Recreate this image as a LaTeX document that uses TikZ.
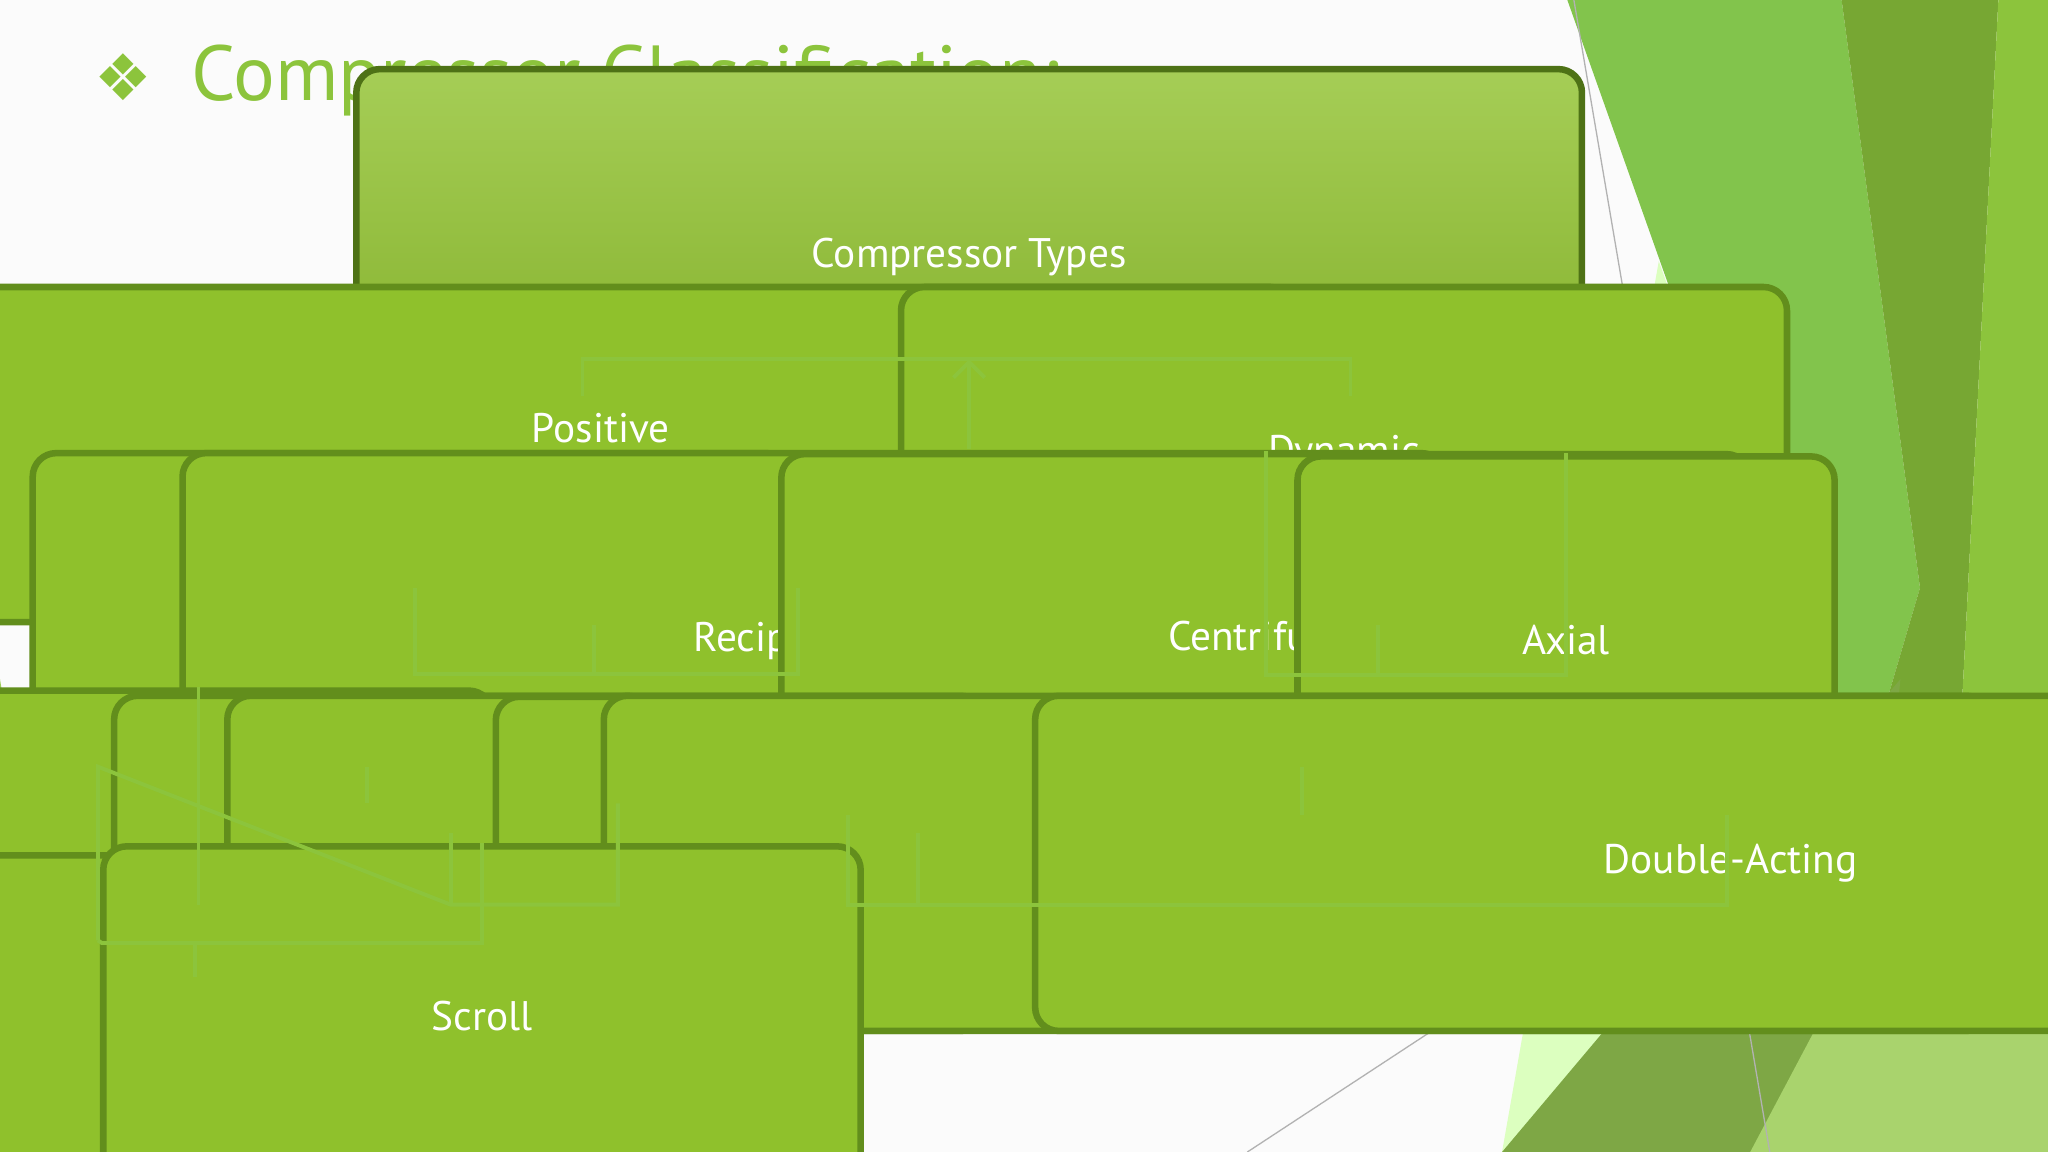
\documentclass[tikz,border=0pt]{standalone}
\usepackage{fontspec}
\setmainfont{PT Sans}
\newfontfamily\symfont{DejaVu Sans}
\usepackage{xcolor}
\usetikzlibrary{shapes, arrows, positioning, arrows.meta, calc}
\definecolor{leaf}{RGB}{143, 193, 44}
\definecolor{leafdark}{RGB}{98, 142, 28}
\definecolor{wire}{RGB}{140, 196, 60}

\begin{document}
\begin{tikzpicture}[x=0.1mm, y=-0.1mm,
    box/.style={draw=leafdark, fill=leaf, line width=0.5mm, rounded corners=1.8mm, text=white, font=\fontsize{9}{10}\selectfont, align=center, inner sep=0pt},
    link/.style={draw=wire, line width=0.3mm}]
    \useasboundingbox (0,0) rectangle (1568,882);
    \fill[white!97!gray] (0,0) rectangle (1568,882);
    % backdrop
    \fill[green!40!lime!25!white] (1270,200) -- (1420,620) -- (1210,882) -- (1150,882) -- cycle;
    \fill[green!45!black!60!lime!70] (1200,0) -- (1410,0) -- (1470,450) -- (1420,620) -- cycle;
    \fill[wire!85!black] (1410,0) -- (1530,0) -- (1500,580) -- (1420,620) -- (1470,450) -- cycle;
    \fill[wire] (1530,0) -- (1568,0) -- (1568,882) -- (1420,882) -- (1500,580) -- cycle;
    \fill[wire!80!black!90] (1150,882) -- (1455,520) -- (1420,882) -- cycle;
    \fill[wire!75!white] (1340,882) -- (1500,580) -- (1568,560) -- (1568,882) -- cycle;
    \fill[wire!85!white] (0,520) -- (58,882) -- (0,882) -- cycle;
    \draw[gray!60, line width=0.1mm] (1205,0) -- (1355,882);
    \draw[gray!60, line width=0.1mm] (1400,590) -- (955,882);
    % title
    \node[anchor=west, text=wire, font=\fontsize{17}{20}\selectfont] (title) at (60,62) {{\symfont\fontsize{14}{14}\selectfont ❖}\hspace{3mm}Compressor Classification:};
    % boxes
    \node[box, minimum width=267, minimum height=82, draw=leafdark!80!black, top color=leaf!80!white, bottom color=leaf!90!black] (types) at (742,197) {Compressor Types};
    \node[box, minimum width=302, minimum height=73] (pos) at (460,348) {Positive\\Displacement};
    \node[box, minimum width=193, minimum height=73] (dyn) at (1029,348) {Dynamic};
    \node[box, minimum width=165, minimum height=82] (rot) at (315,491) {Rotary};
    \node[box, minimum width=275, minimum height=82] (rec) at (623,491) {Reciprocating};
    \node[box, minimum width=211, minimum height=81] (cen) at (969,490) {Centrifugal};
    \node[box, minimum width=117, minimum height=80] (axi) at (1199,490) {Axial};
    \node[box, minimum width=128, minimum height=73] (lobe) at (152,657) {Lobe};
    \node[box, minimum width=117, minimum height=73] (vane) at (293,661) {Vane};
    \node[box, minimum width=165, minimum height=73] (screw) at (464,661) {Screw};
    \node[box, minimum width=192, minimum height=72] (dia) at (717,660) {Diaphragm};
    \node[box, minimum width=302, minimum height=73] (single) at (993,661) {Single-Acting};
    \node[box, minimum width=303, minimum height=73] (double) at (1325,661) {Double-Acting};
    \node[box, minimum width=176, minimum height=74] (ring) at (153,785) {Liquid Ring};
    \node[box, minimum width=165, minimum height=74] (scroll) at (369,778) {Scroll};
    % connectors
    \coordinate (j0) at (742,275);
    \draw[link, -{Straight Barb[length=1.2mm]}] (types) -- (j0);
    \draw[link] (446,303) |- (j0) -| (1034,303);
    \draw[link] ($(pos.south)+(-5,0)$) -- ++(0,37) coordinate (j1);
    \draw[link] (318,450) |- (j1) -| (611,450);
    \draw[link] ($(dyn.south)+(26,0)$) -- ++(0,38) coordinate (j2);
    \draw[link] (cen.north) |- (j2) -| (axi.north);
    \draw[link] ($(rot.south)+(30,0)$) -- ++(0,55) coordinate (j3);
    \draw[link] (75,720) -- (75,587) -- (j3) -| (473,615);
    \draw[link] (lobe.north) -- (lobe.north |- j3);
    \draw[link] (281,615) -- (281,587);
    \draw[link] (75,720) -- (78,722) -| (scroll.north);
    \draw[link] (149,748) -- (149,722);
    \draw[link] ($(rec.south)+(80,0)$) -- ++(0,55) coordinate (j4);
    \draw[link] (649,624) |- (j4) -| (1322,624);
    \draw[link] (997,624) -- (997,587);
\end{tikzpicture}
\end{document}
